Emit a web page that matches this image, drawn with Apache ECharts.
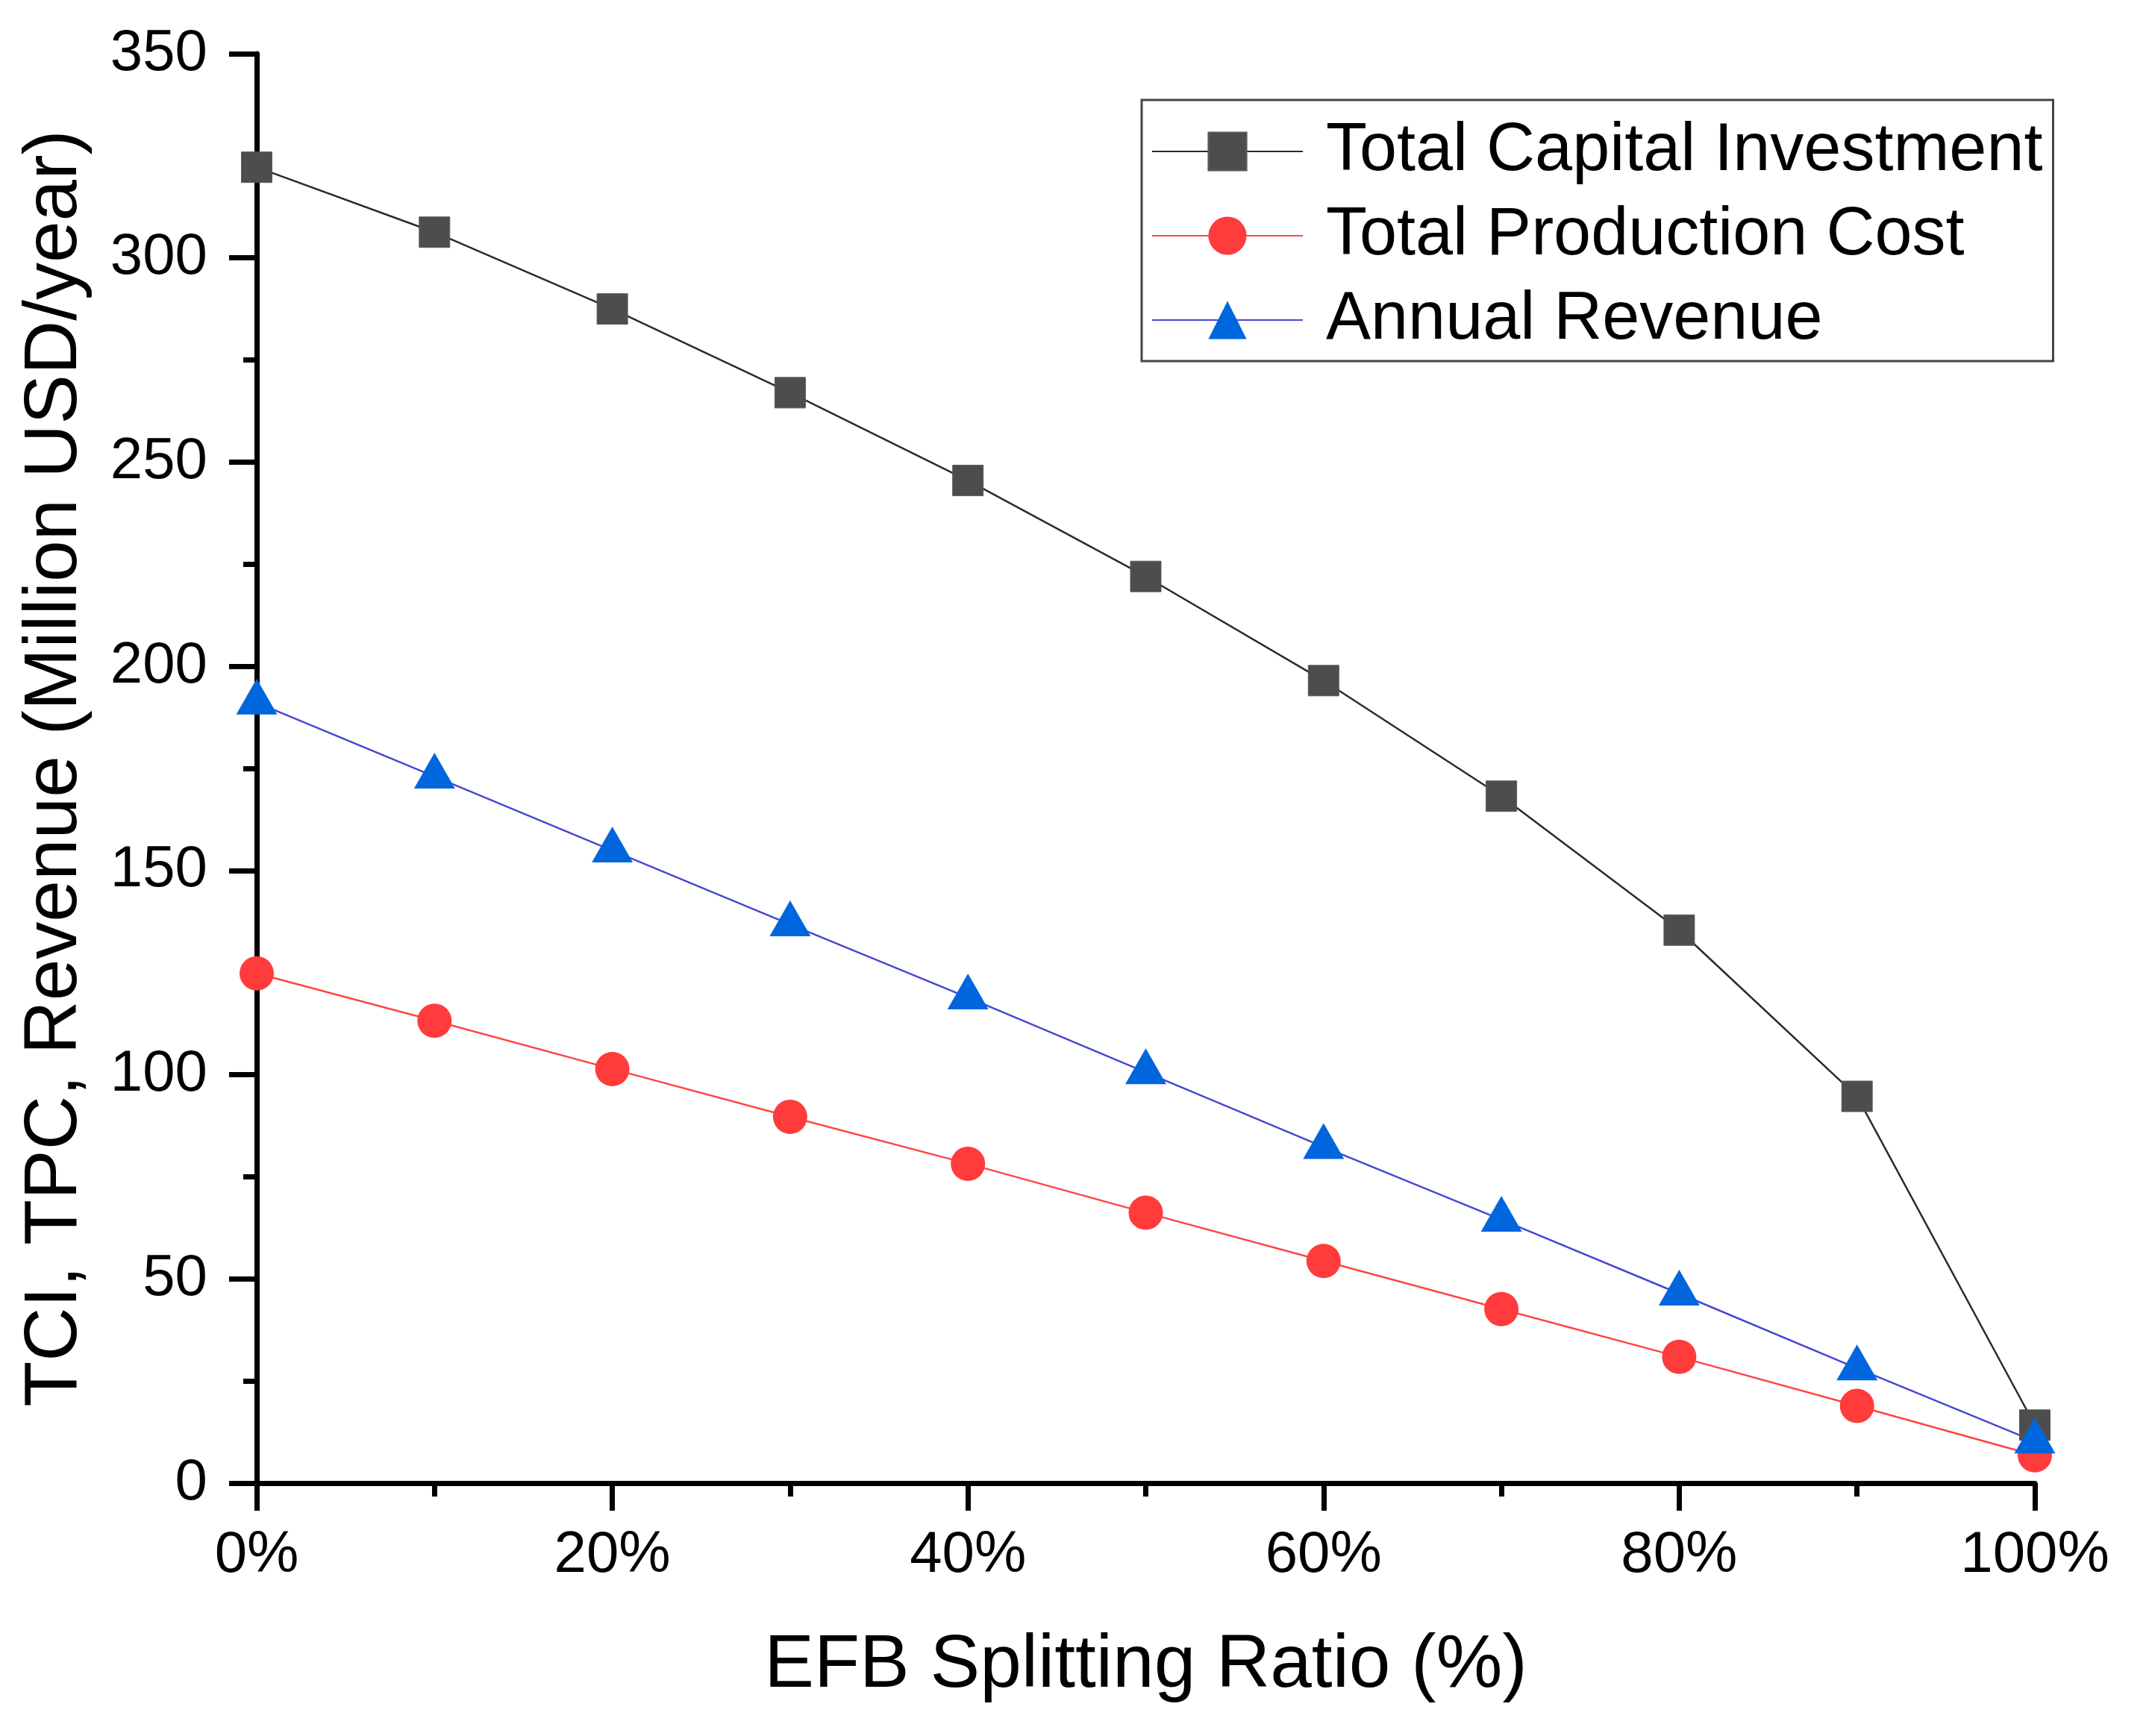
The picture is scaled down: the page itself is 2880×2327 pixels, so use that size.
<!DOCTYPE html>
<html>
<head>
<meta charset="utf-8">
<script src="https://cdn.jsdelivr.net/npm/echarts@6/dist/echarts.min.js"></script>
<style>
html,body{margin:0;padding:0;background:#fff;}
#chart{width:2880px;height:2327px;}
</style>
</head>
<body>
<div id="chart"></div>
<script>
// EFB splitting ratio (%)
var ratios = [0, 10, 20, 30, 40, 50, 60, 70, 80, 90, 100];
// Total Capital Investment
var tci = [322.2, 306.3, 287.5, 267.0, 245.5, 222.0, 196.5, 168.2, 135.4, 94.7, 14.2];
// Total Production Cost
var tpc = [124.8, 113.2, 101.4, 89.7, 78.2, 66.2, 54.4, 42.6, 30.9, 18.9, 6.8];
// Annual Revenue
var revenue = [191.1, 173.0, 154.9, 136.8, 118.9, 100.6, 82.3, 64.5, 46.4, 28.1, 10.2];

var seriesNames = ['Total Capital Investment', 'Total Production Cost', 'Annual Revenue'];
var xAxisName = 'EFB Splitting Ratio (%)';
var yAxisName = 'TCI, TPC, Revenue (Million USD/year)';

function pairs(vals) {
  return ratios.map(function (r, i) { return [r, vals[i]]; });
}

var FONT = "'Liberation Sans', Arial, sans-serif";
var chart = echarts.init(document.getElementById('chart'), null, {renderer: 'canvas'});

var option = {
  backgroundColor: '#ffffff',
  animation: false,
  grid: {left: 344, right: 153, top: 72, bottom: 339, containLabel: false},
  legend: {
    orient: 'vertical',
    left: 1530,
    top: 134,
    padding: [24, 14, 10, 13],
    itemWidth: 202,
    itemHeight: 64,
    itemGap: 23,
    borderColor: '#444',
    borderWidth: 3,
    backgroundColor: '#fff',
    textStyle: {fontFamily: FONT, fontSize: 90, color: '#000', lineHeight: 55, padding: [0, 0, 0, 26]},
    data: seriesNames
  },
  xAxis: {
    type: 'value',
    min: 0, max: 100, interval: 20,
    name: xAxisName,
    nameLocation: 'middle',
    nameGap: 195,
    nameTextStyle: {fontFamily: FONT, fontSize: 100, color: '#000'},
    axisLine: {show: true, onZero: false, lineStyle: {color: '#000', width: 7}},
    axisTick: {show: true, inside: false, length: 37, lineStyle: {color: '#000', width: 7}},
    minorTick: {show: true, splitNumber: 2, length: 18, lineStyle: {color: '#000', width: 7}},
    splitLine: {show: false},
    minorSplitLine: {show: false},
    axisLabel: {fontFamily: FONT, fontSize: 78, color: '#000', margin: 58, formatter: '{value}%'}
  },
  yAxis: {
    type: 'value',
    min: 0, max: 350, interval: 50,
    name: yAxisName,
    nameLocation: 'middle',
    nameGap: 220,
    nameRotate: 90,
    nameTextStyle: {fontFamily: FONT, fontSize: 100, color: '#000'},
    axisLine: {show: true, onZero: false, lineStyle: {color: '#000', width: 7}},
    axisTick: {show: true, inside: false, length: 37, lineStyle: {color: '#000', width: 7}},
    minorTick: {show: true, splitNumber: 2, length: 18, lineStyle: {color: '#000', width: 7}},
    splitLine: {show: false},
    minorSplitLine: {show: false},
    axisLabel: {fontFamily: FONT, fontSize: 78, color: '#000', margin: 66}
  },
  series: [
    {
      name: seriesNames[0],
      type: 'line',
      data: pairs(tci),
      clip: false,
      symbol: 'rect',
      symbolSize: 41,
      lineStyle: {color: '#2a2a2a', width: 2.5},
      itemStyle: {color: '#4d4d4d', borderColor: '#5a5a5a', borderWidth: 1}
    },
    {
      name: seriesNames[1],
      type: 'line',
      data: pairs(tpc),
      clip: false,
      symbol: 'circle',
      symbolSize: 46,
      lineStyle: {color: '#ff4545', width: 2.5},
      itemStyle: {color: '#ff3b3b', borderWidth: 0}
    },
    {
      name: seriesNames[2],
      type: 'line',
      data: pairs(revenue),
      clip: false,
      symbol: 'triangle',
      symbolSize: [55, 48],
      symbolOffset: [0, -8],
      lineStyle: {color: '#4646d6', width: 2.5},
      itemStyle: {color: '#0066dd', borderWidth: 0}
    }
  ]
};
chart.setOption(option);
</script>
</body>
</html>
